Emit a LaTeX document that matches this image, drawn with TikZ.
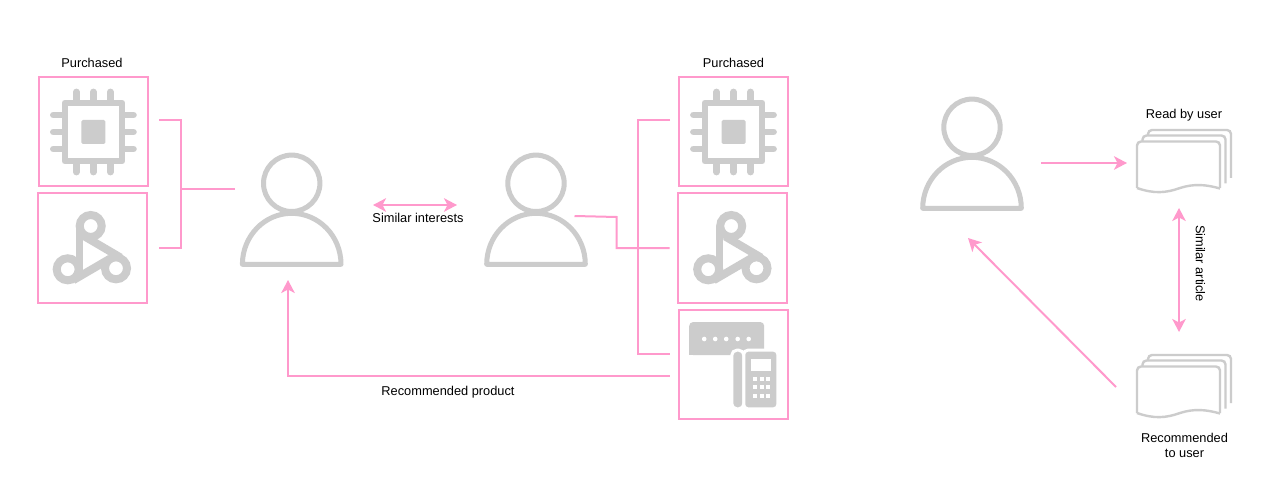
\documentclass[tikz,border=0pt]{standalone}
\usepackage{fontspec}
\setmainfont{Liberation Sans}
\usepackage{xcolor}
\usepackage{tikz}
\usetikzlibrary{arrows.meta,positioning,calc}
\definecolor{linkpink}{HTML}{FF99CC}
\definecolor{icongray}{HTML}{CCCCCC}
\tikzset{
  itembox/.style={draw=linkpink,line width=2pt,minimum width=109pt,minimum height=109pt,inner sep=0pt},
  usernode/.style={minimum width=104pt,minimum height=116pt,inner sep=0pt},
  docnode/.style={minimum width=95pt,minimum height=60pt,inner sep=0pt},
  caption/.style={font=\fontsize{12.8}{15}\selectfont,align=center,inner sep=0pt},
  link/.style={draw=linkpink,line width=2pt},
  arrowlink/.style={link,-{Stealth[length=13pt,width=13.5pt,inset=3.5pt]}},
  bothlink/.style={link,{Stealth[length=13pt,width=13.5pt,inset=3.5pt]}-{Stealth[length=13pt,width=13.5pt,inset=3.5pt]}},
  userpic/.pic={
    \draw [icongray,line width=5pt] (0,0) circle [radius=28.2pt];
    \draw [icongray,line width=5pt,line join=round] (-49.3,81) .. controls (-49.3,52.8) and (-27.2,30) .. (0,30)
      .. controls (27.2,30) and (49.3,52.8) .. (49.3,81) -- cycle;
  },
  chippic/.pic={
    \draw [icongray,line width=6.8pt,line join=round] (-28.5,-29) rectangle (28.5,29);
    \fill [icongray,rounded corners=1.5pt] (-12,-12) rectangle (12,12);
    \foreach \p in {-17,0,17} {
      \draw [icongray,line width=6.8pt,line cap=round] (\p,-40) -- (\p,-30);
      \draw [icongray,line width=6.8pt,line cap=round] (\p,40) -- (\p,30);
      \draw [icongray,line width=6.8pt,line cap=round] (-40,\p) -- (-30,\p);
      \draw [icongray,line width=6.8pt,line cap=round] (40,\p) -- (30,\p);
    }
  },
  graphpic/.pic={
    \draw [icongray,line width=8pt] (-1.3,-22) circle [radius=11pt];
    \draw [icongray,line width=8pt] (-24.3,21.3) circle [radius=11pt];
    \draw [icongray,line width=8pt] (24,20.3) circle [radius=11pt];
    \draw [icongray,line width=7pt] (-12.8,-22) -- (-12.8,24);
    \draw [icongray,line width=8pt] (-7.3,-11.5) -- (28.5,9.5);
    \draw [icongray,line width=8pt] (-18.8,32.2) -- (18.3,10.5);
  },
  phonepic/.pic={
    \fill [icongray,rounded corners=4pt] (-44.5,-9.5) -- (-44.5,-42.5) -- (30.5,-42.5) -- (30.5,-9.5) -- cycle;
    \fill [icongray] (-44.5,-14) rectangle (30.5,-9.5);
    \foreach \p in {-29.5,-18.5,-7.5,4,15} {
      \fill [white] (\p,-25.5) circle [radius=2.3pt];
    }
    \filldraw [icongray,draw=white,line width=3pt,rounded corners=5pt] (-1.9,-14.3) rectangle (10.1,44.3);
    \filldraw [icongray,draw=white,line width=3pt,rounded corners=4pt] (10.1,-14.3) rectangle (44.1,44.3);
    \fill [white] (17,-5.2) rectangle (37,6.2);
    \foreach \k in {21,28,34.3} {
      \foreach \m in {14.5,22.5,31.3} {
        \fill [white] (\k-2,\m-2) rectangle (\k+2,\m+2);
      }
    }
  },
  docpic/.pic={
    \draw [icongray,line width=2.4pt,rounded corners=4pt] (-36,-23) -- (-36,-29) -- (47,-29) -- (47,19);
    \draw [icongray,line width=2.4pt,rounded corners=4pt] (-41.5,-18) -- (-41.5,-23.5) -- (41.5,-23.5) -- (41.5,24.5);
    \draw [icongray,line width=2.4pt,fill=white,rounded corners=4pt] (-47,29) -- (-47,-17.5) -- (36,-17.5) -- (36,29);
    \draw [icongray,line width=2.4pt,fill=white] (-47,29) .. controls (-30,35) and (-18,34) .. (-4,29)
      .. controls (10,24.5) and (22,25.5) .. (36,29.5);
  }
}
\begin{document}
\begin{tikzpicture}[x=1pt,y=-1pt]
  \useasboundingbox (0,0) rectangle (1284,489);
  \fill [white] (0,0) rectangle (1284,489);
  \node [itembox] (chipa) at (93.4,132) {};
  \node [itembox] (grapha) at (92,248) {};
  \node [itembox] (chipb) at (733.5,132) {};
  \node [itembox] (graphb) at (732.5,248) {};
  \node [itembox] (phoneb) at (733.7,364.5) {};
  \pic at (chipa) {chippic};
  \pic at (grapha) {graphpic};
  \pic at (chipb) {chippic};
  \pic at (graphb) {graphpic};
  \pic at (phoneb) {phonepic};
  \node [usernode] (usera) at (291.7,210) {};
  \node [usernode] (userb) at (536,210) {};
  \node [usernode] (userc) at (972,154) {};
  \pic at (291.7,183.3) {userpic};
  \pic at (536,183.3) {userpic};
  \pic at (972,127.3) {userpic};
  \node [docnode] (docread) at (1184,159) {};
  \node [docnode] (docrec) at (1184,384) {};
  \pic at (docread) {docpic};
  \pic at (docrec) {docpic};
  \node [caption] (boughta) at (92,62.5) {Purchased};
  \node [caption] (boughtb) at (733.5,62.5) {Purchased};
  \node [caption] (similar) at (418,217.5) {Similar interests};
  \node [caption] (recprod) at (448,392.5) {Recommended product};
  \node [caption] (readby) at (1184,115.5) {Read by user};
  \node [caption] (recto) at (1184.5,445) {Recommended\\to user};
  \node [caption,rotate=-90] (simart) at (1200.5,263.5) {Similar article};
  \coordinate (chipaout) at (159,120);
  \coordinate (graphaout) at (159,248);
  \coordinate (brackafork) at (180.5,189.3);
  \coordinate (userain) at (235,189.3);
  \coordinate (userafoot) at (288,280);
  \coordinate (phoneout) at (669.5,375.5);
  \coordinate (simleft) at (373,205);
  \coordinate (simright) at (457,205);
  \coordinate (userbout) at (574.5,216);
  \coordinate (graphbin) at (669.5,248);
  \coordinate (chipbin) at (670,120);
  \coordinate (phonebin) at (670,353.5);
  \coordinate (usercout) at (1041,163);
  \coordinate (docin) at (1127,163);
  \coordinate (doctop) at (1179,208);
  \coordinate (docbot) at (1179,332);
  \coordinate (docout) at (1116,387);
  \coordinate (usercin) at (968,238);
  \draw [link] (chipaout) -| (brackafork |- graphaout) -- (graphaout);
  \draw [link] (brackafork) -- (userain);
  \draw [link] (chipbin) -| (637.7,353.5) -- (phonebin);
  \draw [link] (userbout) -- (616.7,217) |- (graphbin);
  \draw [arrowlink] (phoneout) -| (userafoot);
  \draw [bothlink] (simleft) -- (simright);
  \draw [arrowlink] (usercout) -- (docin);
  \draw [bothlink] (doctop) -- (docbot);
  \draw [arrowlink] (docout) -- (usercin);
\end{tikzpicture}
\end{document}
